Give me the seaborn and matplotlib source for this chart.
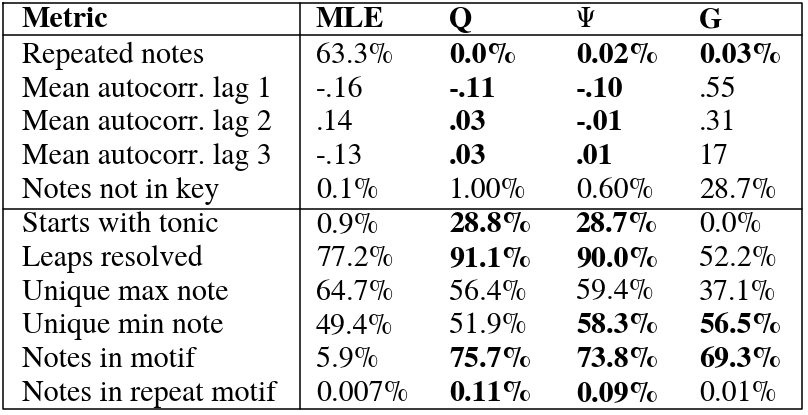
import matplotlib
matplotlib.use("Agg")
import matplotlib.pyplot as plt
import seaborn as sns

# ---- data ----
columns = ["Metric", "MLE", "Q", "\u03a8", "G"]
metrics_a = ["Repeated notes", "Mean autocorr. lag 1", "Mean autocorr. lag 2",
             "Mean autocorr. lag 3", "Notes not in key"]
metrics_b = ["Starts with tonic", "Leaps resolved", "Unique max note",
             "Unique min note", "Notes in motif", "Notes in repeat motif"]
mle_a = ["63.3%", "-.16", ".14", "-.13", "0.1%"]
q_a = ["0.0%", "-.11", ".03", ".03", "1.00%"]
psi_a = ["0.02%", "-.10", "-.01", ".01", "0.60%"]
g_a = ["0.03%", ".55", ".31", "17", "28.7%"]
mle_b = ["0.9%", "77.2%", "64.7%", "49.4%", "5.9%", "0.007%"]
q_b = ["28.8%", "91.1%", "56.4%", "51.9%", "75.7%", "0.11%"]
psi_b = ["28.7%", "90.0%", "59.4%", "58.3%", "73.8%", "0.09%"]
g_b = ["0.0%", "52.2%", "37.1%", "56.5%", "69.3%", "0.01%"]
# bold flags for (Q, Psi, G)
bold_a = [(1, 1, 1), (1, 1, 0), (1, 1, 0), (1, 1, 0), (0, 0, 0)]
bold_b = [(1, 1, 0), (1, 1, 0), (0, 0, 0), (0, 1, 1), (1, 1, 1), (1, 1, 0)]

sns.set_theme(style="white")
plt.rcParams["font.family"] = ["TeX Gyre Termes", "Liberation Serif", "DejaVu Serif"]

W, H = 808, 415
fig = plt.figure(figsize=(W / 100, H / 100), dpi=100)
ax = fig.add_axes([0, 0, 1, 1])
ax.set_xlim(0, W)
ax.set_ylim(H, 0)
ax.axis("off")

FS = 21.6
col_x = [22, 316, 449, 576, 699]
lw = 1.1
k = "black"

# borders and rules
left, right, top, bottom = 2.5, 801.5, 3.5, 408.5
ax.plot([left, right, right, left, left], [top, top, bottom, bottom, top], color=k, lw=lw)
ax.plot([left, right], [35.5, 35.5], color=k, lw=lw)
ax.plot([left, right], [208.5, 208.5], color=k, lw=lw)
ax.plot([299.5, 299.5], [top, bottom], color=k, lw=lw)

# header
for i, c in enumerate(columns):
    w = "normal" if c == "\u03a8" else "bold"
    ax.text(col_x[i], 27, c, fontsize=FS, fontweight=w, va="baseline", ha="left", color=k)


def draw_group(metrics, mle, q, psi, g, bolds, y0, step):
    for r in range(len(metrics)):
        y = y0 + step * r
        ax.text(col_x[0], y, metrics[r], fontsize=FS, va="baseline", ha="left", color=k)
        ax.text(col_x[1], y, mle[r], fontsize=FS, va="baseline", ha="left", color=k)
        for j, vals in enumerate([q, psi, g]):
            ax.text(col_x[2 + j], y, vals[r], fontsize=FS, va="baseline", ha="left",
                    fontweight="bold" if bolds[r][j] else "normal", color=k)


draw_group(metrics_a, mle_a, q_a, psi_a, g_a, bold_a, 63, 33.7)
draw_group(metrics_b, mle_b, q_b, psi_b, g_b, bold_b, 232, 33.8)

fig.savefig("out.png", dpi=100, facecolor="white")
